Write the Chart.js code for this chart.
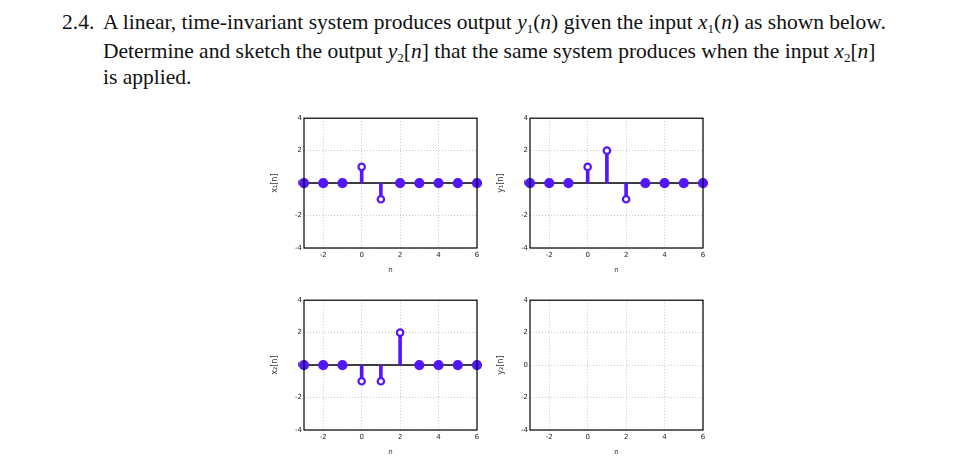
<!DOCTYPE html>
<html><head><meta charset="utf-8">
<script src="https://cdn.jsdelivr.net/npm/chart.js@4.4.0/dist/chart.umd.min.js"></script>
<style>
body{margin:0;width:970px;height:464px;background:#fff;position:relative;overflow:hidden;font-family:"Liberation Serif","DejaVu Serif",serif;}
.t{position:absolute;font-size:21.5px;color:#111;white-space:nowrap;}
.t sub{font-size:13px;vertical-align:-4px;line-height:0;}
.c{position:absolute;}
</style></head><body>
<div class="t" style="left:62px;top:10px">2.4.</div>
<div class="t" style="left:103px;top:10px">A linear, time-invariant system produces output <i>y</i><sub>1</sub>(<i>n</i>) given the input <i>x</i><sub>1</sub>(<i>n</i>) as shown below.</div>
<div class="t" style="left:103px;top:39px">Determine and sketch the output <i>y</i><sub>2</sub>[<i>n</i>] that the same system produces when the input <i>x</i><sub>2</sub>[<i>n</i>]</div>
<div class="t" style="left:103px;top:65px">is applied.</div>
<div class="c" style="left:270px;top:112px;width:215px;height:162px"><canvas id="c1"></canvas></div>
<div class="c" style="left:496px;top:112px;width:215px;height:162px"><canvas id="c2"></canvas></div>
<div class="c" style="left:270px;top:294px;width:215px;height:162px"><canvas id="c3"></canvas></div>
<div class="c" style="left:496px;top:294px;width:215px;height:162px"><canvas id="c4"></canvas></div>
<script>
const n = [-3,-2,-1,0,1,2,3,4,5,6];
const x1 = [0,0,0,1,-1,0,0,0,0,0];
const y1 = [0,0,0,1,2,-1,0,0,0,0];
const x2 = [0,0,0,-1,-1,2,0,0,0,0];
const y2 = [];
const xTicks = [-2,0,2,4,6];
const yTicks = [-4,-2,0,2,4];
const blue = '#5516ff';
const boxPlugin = {id:'box',afterDraw(ch){const a=ch.chartArea,c=ch.ctx;c.save();c.strokeStyle='#000';c.lineWidth=1.2;c.strokeRect(a.left,a.top,a.right-a.left,a.bottom-a.top);c.restore();}};
function make(id, vals, ylab){
  const pts = vals.map((v,i)=>({x:n[i],y:v}));
  const ds = [];
  if(vals.length){
    ds.push({type:'line',data:[{x:n[0],y:0},{x:n[n.length-1],y:0}],borderColor:'#000',borderWidth:1.5,pointRadius:0,order:3});
    ds.push({type:'bar',data:pts,backgroundColor:blue,barThickness:3,order:2});
    ds.push({type:'scatter',data:pts,order:1,
      pointRadius:c=>c.raw&&c.raw.y===0?4:3.2,
      pointBackgroundColor:c=>c.raw&&c.raw.y===0?blue:'#fff',
      pointBorderColor:blue,pointBorderWidth:2.2});
  }
  new Chart(document.getElementById(id),{
    data:{datasets:ds},
    plugins:[boxPlugin],
    options:{responsive:true,maintainAspectRatio:false,animation:false,clip:false,
      layout:{padding:{top:6,right:8,left:0,bottom:0}},
      plugins:{legend:{display:false},tooltip:{enabled:false}},
      scales:{
        x:{type:'linear',min:-3,max:6,offset:false,afterFit:s=>{s.height=26;},
          afterBuildTicks:s=>{s.ticks=xTicks.map(v=>({value:v}));},
          ticks:{font:{size:7,family:'DejaVu Sans'},color:'#222',padding:3},
          grid:{color:'#bbb',lineWidth:0.8,offset:false,drawTicks:false},
          border:{dash:[1,2],display:false},
          title:{display:true,text:'n',font:{size:7,family:'DejaVu Sans'},color:'#333',padding:{top:1,bottom:0}}},
        y:{min:-4,max:4,afterFit:s=>{s.width=34;},
          afterBuildTicks:s=>{s.ticks=yTicks.map(v=>({value:v}));},
          ticks:{font:{size:7,family:'DejaVu Sans'},color:'#222',padding:2},
          grid:{color:'#bbb',lineWidth:0.8,drawTicks:false},
          border:{dash:[1,2],display:false},
          title:{display:true,text:ylab,font:{size:8,family:'DejaVu Sans'},color:'#333',padding:{top:0,bottom:6}}}
      }}
  });
}
make('c1',x1,'x₁[n]');
make('c2',y1,'y₁[n]');
make('c3',x2,'x₂[n]');
make('c4',y2,'y₂[n]');
</script></body></html>
